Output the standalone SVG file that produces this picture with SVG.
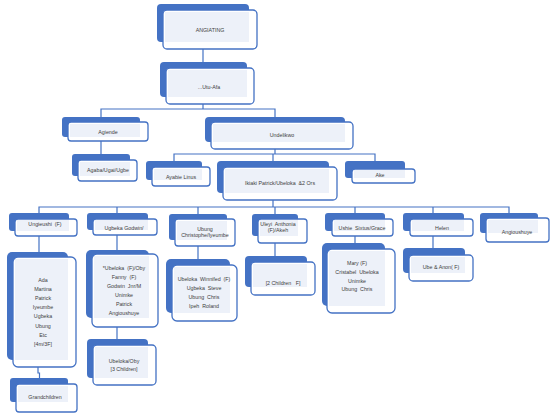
<svg xmlns="http://www.w3.org/2000/svg" width="550" height="416" viewBox="0 0 550 416">
<style>
.b{fill:#4472C4}
.f{fill:#FFFFFF;stroke:#4472C4;stroke-width:1.3}
.i{fill:#EDF1F9}
.c{fill:none;stroke:#4472C4;stroke-width:1.2}
text{font-family:"Liberation Sans",Arial,sans-serif;font-size:5.3px;fill:#404040;text-anchor:middle;white-space:pre}
</style>
<rect width="550" height="416" fill="#FFFFFF"/>
<g id="connectors">
<path class="c" d="M203 49V62"/>
<path class="c" d="M203 104V109M101 117V109H275V117"/>
<path class="c" d="M101 141V154"/>
<path class="c" d="M275 149V154M174 161V154H375V161M273 154V161"/>
<path class="c" d="M273 200V207M39 213V207H509V213M117 207V213M198 207V214M275 207V214M355 207V213M433 207V213"/>
<path class="c" d="M39 236V252"/>
<path class="c" d="M117 235V250"/>
<path class="c" d="M198 246V259"/>
<path class="c" d="M275 243V256"/>
<path class="c" d="M355 236V243"/>
<path class="c" d="M433 236V248"/>
<path class="c" d="M38 367V373H39.5V378"/>
<path class="c" d="M117 327V339"/>
</g>
<g id="n1"><rect class="b" x="157" y="4" width="92" height="38" rx="4"/><rect class="f" x="163" y="10" width="94" height="39" rx="4"/><rect class="i" x="165" y="12" width="84" height="30"/><text x="210" y="32">ANGIATING</text></g>
<g id="n2"><rect class="b" x="160" y="62" width="87" height="35" rx="4"/><rect class="f" x="166" y="68" width="88" height="36" rx="4"/><rect class="i" x="168" y="70" width="79" height="27"/><text x="209" y="89">...Utu-Afa</text></g>
<g id="n3"><rect class="b" x="62" y="117" width="78" height="20" rx="3"/><rect class="f" x="68" y="122" width="80" height="19" rx="3"/><rect class="i" x="70" y="124" width="70" height="13"/><text x="108" y="134">Agiende</text></g>
<g id="n4"><rect class="b" x="72" y="154" width="58" height="22" rx="3"/><rect class="f" x="78" y="160" width="59" height="21" rx="3"/><rect class="i" x="80" y="162" width="50" height="14"/><text x="108" y="172">Agaba/Ugai/Ugbe</text></g>
<g id="n5"><rect class="b" x="205" y="117" width="140" height="25" rx="4"/><rect class="f" x="211" y="122" width="142" height="27" rx="4"/><rect class="i" x="213" y="124" width="132" height="18"/><text x="282" y="137">Undelikwo</text></g>
<g id="n6"><rect class="b" x="146" y="161" width="56" height="19" rx="3"/><rect class="f" x="152" y="167" width="58" height="19" rx="3"/><rect class="i" x="154" y="169" width="48" height="11"/><text x="181" y="178.6">Ayabie Linus</text></g>
<g id="n7"><rect class="b" x="217" y="161" width="112" height="32" rx="4"/><rect class="f" x="223" y="167" width="114" height="33" rx="4"/><rect class="i" x="225" y="169" width="104" height="24"/><text x="280" y="185">Ikiaki Patrick/Ubeloka  &amp;2 Ors</text></g>
<g id="n8"><rect class="b" x="345" y="161" width="60" height="17" rx="3"/><rect class="f" x="352" y="169" width="63" height="14" rx="3"/><rect class="i" x="354" y="170" width="51" height="8"/><text x="380" y="177">Ake</text></g>
<g id="n9"><rect class="b" x="9" y="213" width="60" height="18" rx="3"/><rect class="f" x="15" y="219" width="62" height="17" rx="3"/><rect class="i" x="17" y="220" width="52" height="11"/><text x="45" y="226">Ungieushi  (F)</text></g>
<g id="n10"><rect class="b" x="87" y="213" width="61" height="17" rx="3"/><rect class="f" x="93" y="219" width="64" height="16" rx="3"/><rect class="i" x="95" y="220" width="53" height="10"/><text x="124" y="230">Ugbeka Godwin/</text></g>
<g id="n11"><rect class="b" x="169" y="214" width="58" height="26" rx="3"/><rect class="f" x="175" y="219" width="60" height="27" rx="3"/><rect class="i" x="177" y="221" width="50" height="19"/><text x="205" y="231">Ubung</text><text x="205" y="237">Christophe/Iyeumbe</text></g>
<g id="n12"><rect class="b" x="252" y="214" width="46" height="22" rx="3"/><rect class="f" x="258" y="219" width="49" height="24" rx="3"/><rect class="i" x="260" y="220" width="38" height="16"/><text x="278" y="226">Uleyi  Anthonia</text><text x="278" y="232">(F)/Akeh</text></g>
<g id="n13"><rect class="b" x="325" y="213" width="60" height="18" rx="3"/><rect class="f" x="332" y="219" width="61" height="17" rx="3"/><rect class="i" x="334" y="220" width="51" height="11"/><text x="362" y="230">Ushie  Sixtus/Grace</text></g>
<g id="n14"><rect class="b" x="403" y="213" width="61" height="18" rx="3"/><rect class="f" x="410" y="219" width="63" height="17" rx="3"/><rect class="i" x="412" y="220" width="52" height="11"/><text x="442" y="230">Helen</text></g>
<g id="n15"><rect class="b" x="480" y="213" width="58" height="20" rx="3"/><rect class="f" x="486" y="218" width="63" height="24" rx="3"/><rect class="i" x="488" y="220" width="50" height="13"/><text x="517" y="234">Angioushuye</text></g>
<g id="n16"><rect class="b" x="7" y="252" width="61" height="108" rx="5"/><rect class="f" x="13" y="257" width="63" height="110" rx="5"/><rect class="i" x="15" y="259" width="53" height="101"/>
<text x="43" y="282">Ada</text><text x="43" y="291.1">Martina</text><text x="43" y="300.2">Patrick</text><text x="43" y="309.3">Iyeumbe</text><text x="43" y="318.4">Ugbeka</text><text x="43" y="327.5">Ubung</text><text x="43" y="336.6">Etc</text><text x="43" y="345.7">[4m/3F]</text></g>
<g id="n17"><rect class="b" x="10" y="378" width="58" height="24" rx="3"/><rect class="f" x="16" y="384" width="61" height="28" rx="3"/><rect class="i" x="18" y="386" width="50" height="16"/><text x="45" y="399">Grandchildren</text></g>
<g id="n18"><rect class="b" x="86" y="250" width="63" height="68" rx="5"/><rect class="f" x="92" y="254" width="66" height="73" rx="5"/><rect class="i" x="94" y="256" width="55" height="62"/>
<text x="124" y="270">*Ubeloka  (F)/Oby</text><text x="124" y="279">Fanny  (F)</text><text x="124" y="288">Godwin  Jnr/M</text><text x="124" y="297">Unimke</text><text x="124" y="306">Patrick</text><text x="124" y="315">Angioushuye</text></g>
<g id="n19"><rect class="b" x="87" y="339" width="61" height="39" rx="4"/><rect class="f" x="93" y="345" width="63" height="40" rx="4"/><rect class="i" x="95" y="347" width="53" height="31"/><text x="124" y="363">Ubeloka/Oby</text><text x="124" y="371">[3 Children]</text></g>
<g id="n20"><rect class="b" x="166" y="259" width="64" height="54" rx="5"/><rect class="f" x="172" y="265" width="65" height="56" rx="5"/><rect class="i" x="174" y="267" width="56" height="46"/>
<text x="204" y="281">Ubeloka  Winnifed  (F)</text><text x="204" y="290">Ugbeka  Steve</text><text x="204" y="299">Ubung  Chris</text><text x="204" y="308">Ipeh  Roland</text></g>
<g id="n21"><rect class="b" x="245" y="256" width="62" height="31" rx="4"/><rect class="f" x="251" y="262" width="64" height="33" rx="4"/><rect class="i" x="253" y="264" width="54" height="23"/><text x="283" y="285">[2 Children   F]</text></g>
<g id="n22"><rect class="b" x="322" y="243" width="63" height="63" rx="5"/><rect class="f" x="327" y="249" width="68" height="64" rx="5"/><rect class="i" x="329" y="251" width="56" height="55"/>
<text x="357" y="265">Mary (F)</text><text x="357" y="274">Cristabel  Ubeloka</text><text x="357" y="283">Unimke</text><text x="357" y="291">Ubung  Chris</text></g>
<g id="n23"><rect class="b" x="403" y="248" width="62" height="25" rx="4"/><rect class="f" x="409" y="255" width="64" height="26" rx="4"/><rect class="i" x="411" y="257" width="54" height="16"/><text x="441" y="269">Ube &amp; Anon( F)</text></g>
</svg>
